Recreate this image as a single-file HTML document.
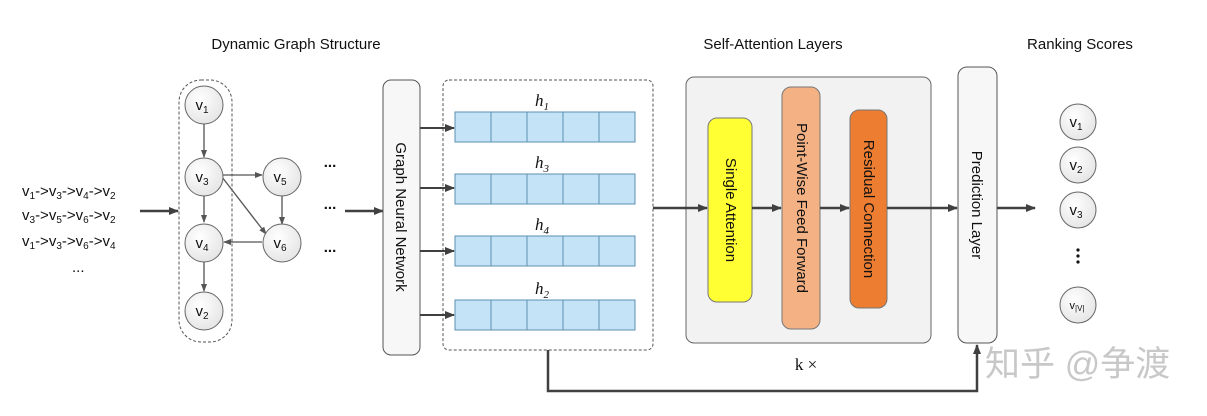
<!DOCTYPE html>
<html><head><meta charset="utf-8"><style>
body{margin:0;background:#fff;}
svg text{font-family:"Liberation Sans","Noto Sans CJK SC",sans-serif;}
</style></head><body>
<svg width="1207" height="411" viewBox="0 0 1207 411" xmlns="http://www.w3.org/2000/svg">
<defs>
<marker id="a" markerWidth="10" markerHeight="10" refX="9" refY="5" orient="auto" markerUnits="userSpaceOnUse"><path d="M0,1 L10,5 L0,9 z" fill="#404040"/></marker>
<marker id="s" markerWidth="8" markerHeight="8" refX="7" refY="4" orient="auto" markerUnits="userSpaceOnUse"><path d="M0,1 L8,4 L0,7 z" fill="#555"/></marker>
<radialGradient id="g" cx="40%" cy="35%" r="70%"><stop offset="0" stop-color="#fff"/><stop offset="1" stop-color="#e4e4e4"/></radialGradient>
<g id="row" fill="#c5e3f6" stroke="#5b8fb3" stroke-width="1"><rect x="455" y="0" width="36" height="30"/><rect x="491" y="0" width="36" height="30"/><rect x="527" y="0" width="36" height="30"/><rect x="563" y="0" width="36" height="30"/><rect x="599" y="0" width="36" height="30"/></g>
</defs>
<g font-size="15" fill="#111" text-anchor="middle">
<text x="296" y="49">Dynamic Graph Structure</text>
<text x="773" y="49">Self-Attention Layers</text>
<text x="1080" y="49">Ranking Scores</text>
</g>
<g font-size="15" fill="#111">
<text x="22" y="196">v<tspan font-size="10" dy="3">1</tspan><tspan dy="-3">-&gt;v</tspan><tspan font-size="10" dy="3">3</tspan><tspan dy="-3">-&gt;v</tspan><tspan font-size="10" dy="3">4</tspan><tspan dy="-3">-&gt;v</tspan><tspan font-size="10" dy="3">2</tspan></text>
<text x="22" y="220">v<tspan font-size="10" dy="3">3</tspan><tspan dy="-3">-&gt;v</tspan><tspan font-size="10" dy="3">5</tspan><tspan dy="-3">-&gt;v</tspan><tspan font-size="10" dy="3">6</tspan><tspan dy="-3">-&gt;v</tspan><tspan font-size="10" dy="3">2</tspan></text>
<text x="22" y="246">v<tspan font-size="10" dy="3">1</tspan><tspan dy="-3">-&gt;v</tspan><tspan font-size="10" dy="3">3</tspan><tspan dy="-3">-&gt;v</tspan><tspan font-size="10" dy="3">6</tspan><tspan dy="-3">-&gt;v</tspan><tspan font-size="10" dy="3">4</tspan></text>
<text x="72" y="272">...</text>
</g>
<line x1="140" y1="211" x2="178" y2="211" stroke="#404040" stroke-width="2.5" marker-end="url(#a)"/>
<rect x="179" y="80" width="53" height="262" rx="22" fill="none" stroke="#555" stroke-dasharray="3,2"/>
<g stroke="#555" stroke-width="1.3" fill="none">
<line x1="204" y1="124" x2="204" y2="157" marker-end="url(#s)"/>
<line x1="204" y1="196" x2="204" y2="222" marker-end="url(#s)"/>
<line x1="204" y1="262" x2="204" y2="291" marker-end="url(#s)"/>
<line x1="223" y1="175" x2="262" y2="175" marker-end="url(#s)"/>
<line x1="222" y1="177" x2="266" y2="234" marker-end="url(#s)"/>
<line x1="282" y1="196" x2="282" y2="224" marker-end="url(#s)"/>
<line x1="262" y1="242" x2="224" y2="242" marker-end="url(#s)"/>
</g>
<g stroke="#666" fill="url(#g)">
<circle cx="204" cy="105" r="19"/><circle cx="204" cy="177" r="19"/><circle cx="204" cy="243" r="19"/><circle cx="204" cy="311" r="19"/><circle cx="282" cy="177" r="19"/><circle cx="282" cy="243" r="19"/>
</g>
<g font-size="15" fill="#111" text-anchor="middle">
<text x="202" y="110">v<tspan font-size="10" dy="3">1</tspan></text>
<text x="202" y="182">v<tspan font-size="10" dy="3">3</tspan></text>
<text x="202" y="248">v<tspan font-size="10" dy="3">4</tspan></text>
<text x="202" y="316">v<tspan font-size="10" dy="3">2</tspan></text>
<text x="280" y="182">v<tspan font-size="10" dy="3">5</tspan></text>
<text x="280" y="248">v<tspan font-size="10" dy="3">6</tspan></text>
<text x="330" y="167" font-weight="bold">...</text>
<text x="330" y="209" font-weight="bold">...</text>
<text x="330" y="252" font-weight="bold">...</text>
</g>
<line x1="345" y1="211" x2="383" y2="211" stroke="#404040" stroke-width="2.5" marker-end="url(#a)"/>
<rect x="383" y="80" width="37" height="275" rx="8" fill="#f7f7f7" stroke="#555"/>
<text transform="translate(396,217) rotate(90)" font-size="15" text-anchor="middle" fill="#111">Graph Neural Network</text>
<rect x="443" y="80" width="210" height="270" rx="6" fill="none" stroke="#555" stroke-dasharray="3,2"/>
<use href="#row" y="112"/><use href="#row" y="174"/><use href="#row" y="236"/><use href="#row" y="300"/>
<g font-style="italic" font-size="17" fill="#111">
<text x="535" y="106" style="font-family:'Liberation Serif',serif">h<tspan font-size="11" dy="4">1</tspan></text>
<text x="535" y="168" style="font-family:'Liberation Serif',serif">h<tspan font-size="11" dy="4">3</tspan></text>
<text x="535" y="230" style="font-family:'Liberation Serif',serif">h<tspan font-size="11" dy="4">4</tspan></text>
<text x="535" y="294" style="font-family:'Liberation Serif',serif">h<tspan font-size="11" dy="4">2</tspan></text>
</g>
<g stroke="#404040" stroke-width="2" marker-end="url(#a)">
<line x1="420" y1="128" x2="454" y2="128"/><line x1="420" y1="188" x2="454" y2="188"/><line x1="420" y1="251" x2="454" y2="251"/><line x1="420" y1="315" x2="454" y2="315"/>
</g>
<rect x="686" y="77" width="245" height="266" rx="8" fill="#f2f2f2" stroke="#666"/>
<rect x="708" y="118" width="44" height="184" rx="9" fill="#ffff33" stroke="#777"/>
<rect x="782" y="87" width="38" height="242" rx="9" fill="#f4b183" stroke="#777"/>
<rect x="850" y="110" width="37" height="198" rx="9" fill="#ed7d31" stroke="#777"/>
<g font-size="15" fill="#111" text-anchor="middle">
<text transform="translate(726,210) rotate(90)">Single Attention</text>
<text transform="translate(797,208) rotate(90)">Point-Wise Feed Forward</text>
<text transform="translate(864,209) rotate(90)">Residual Connection</text>
</g>
<rect x="958" y="67" width="39" height="276" rx="9" fill="#f7f7f7" stroke="#555"/>
<text transform="translate(972,205) rotate(90)" font-size="15" text-anchor="middle" fill="#111">Prediction Layer</text>
<g stroke="#404040" stroke-width="2.5" marker-end="url(#a)">
<line x1="653" y1="208" x2="707" y2="208"/><line x1="752" y1="208" x2="781" y2="208"/><line x1="820" y1="208" x2="849" y2="208"/><line x1="887" y1="208" x2="957" y2="208"/><line x1="997" y1="208" x2="1035" y2="208"/>
</g>
<text x="806" y="370" font-size="17" text-anchor="middle" fill="#111" style="font-family:'Liberation Serif',serif">k ×</text>
<polyline points="548,350 548,391 977,391 977,345" fill="none" stroke="#404040" stroke-width="2.5" marker-end="url(#a)"/>
<g stroke="#666" fill="url(#g)">
<circle cx="1078" cy="122" r="18"/><circle cx="1078" cy="165" r="18"/><circle cx="1078" cy="210" r="18"/><circle cx="1078" cy="305" r="18"/>
</g>
<g font-size="15" fill="#111" text-anchor="middle">
<text x="1076" y="127">v<tspan font-size="10" dy="3">1</tspan></text>
<text x="1076" y="170">v<tspan font-size="10" dy="3">2</tspan></text>
<text x="1076" y="215">v<tspan font-size="10" dy="3">3</tspan></text>
<text x="1077" y="309" font-size="11">v<tspan font-size="8" dy="2">|V|</tspan></text>
</g>
<g fill="#111"><circle cx="1078" cy="250" r="1.6"/><circle cx="1078" cy="256" r="1.6"/><circle cx="1078" cy="262" r="1.6"/></g>
<text x="985" y="376" font-size="35" fill="#c8c8c8">知乎 @争渡</text>
</svg>
</body></html>
